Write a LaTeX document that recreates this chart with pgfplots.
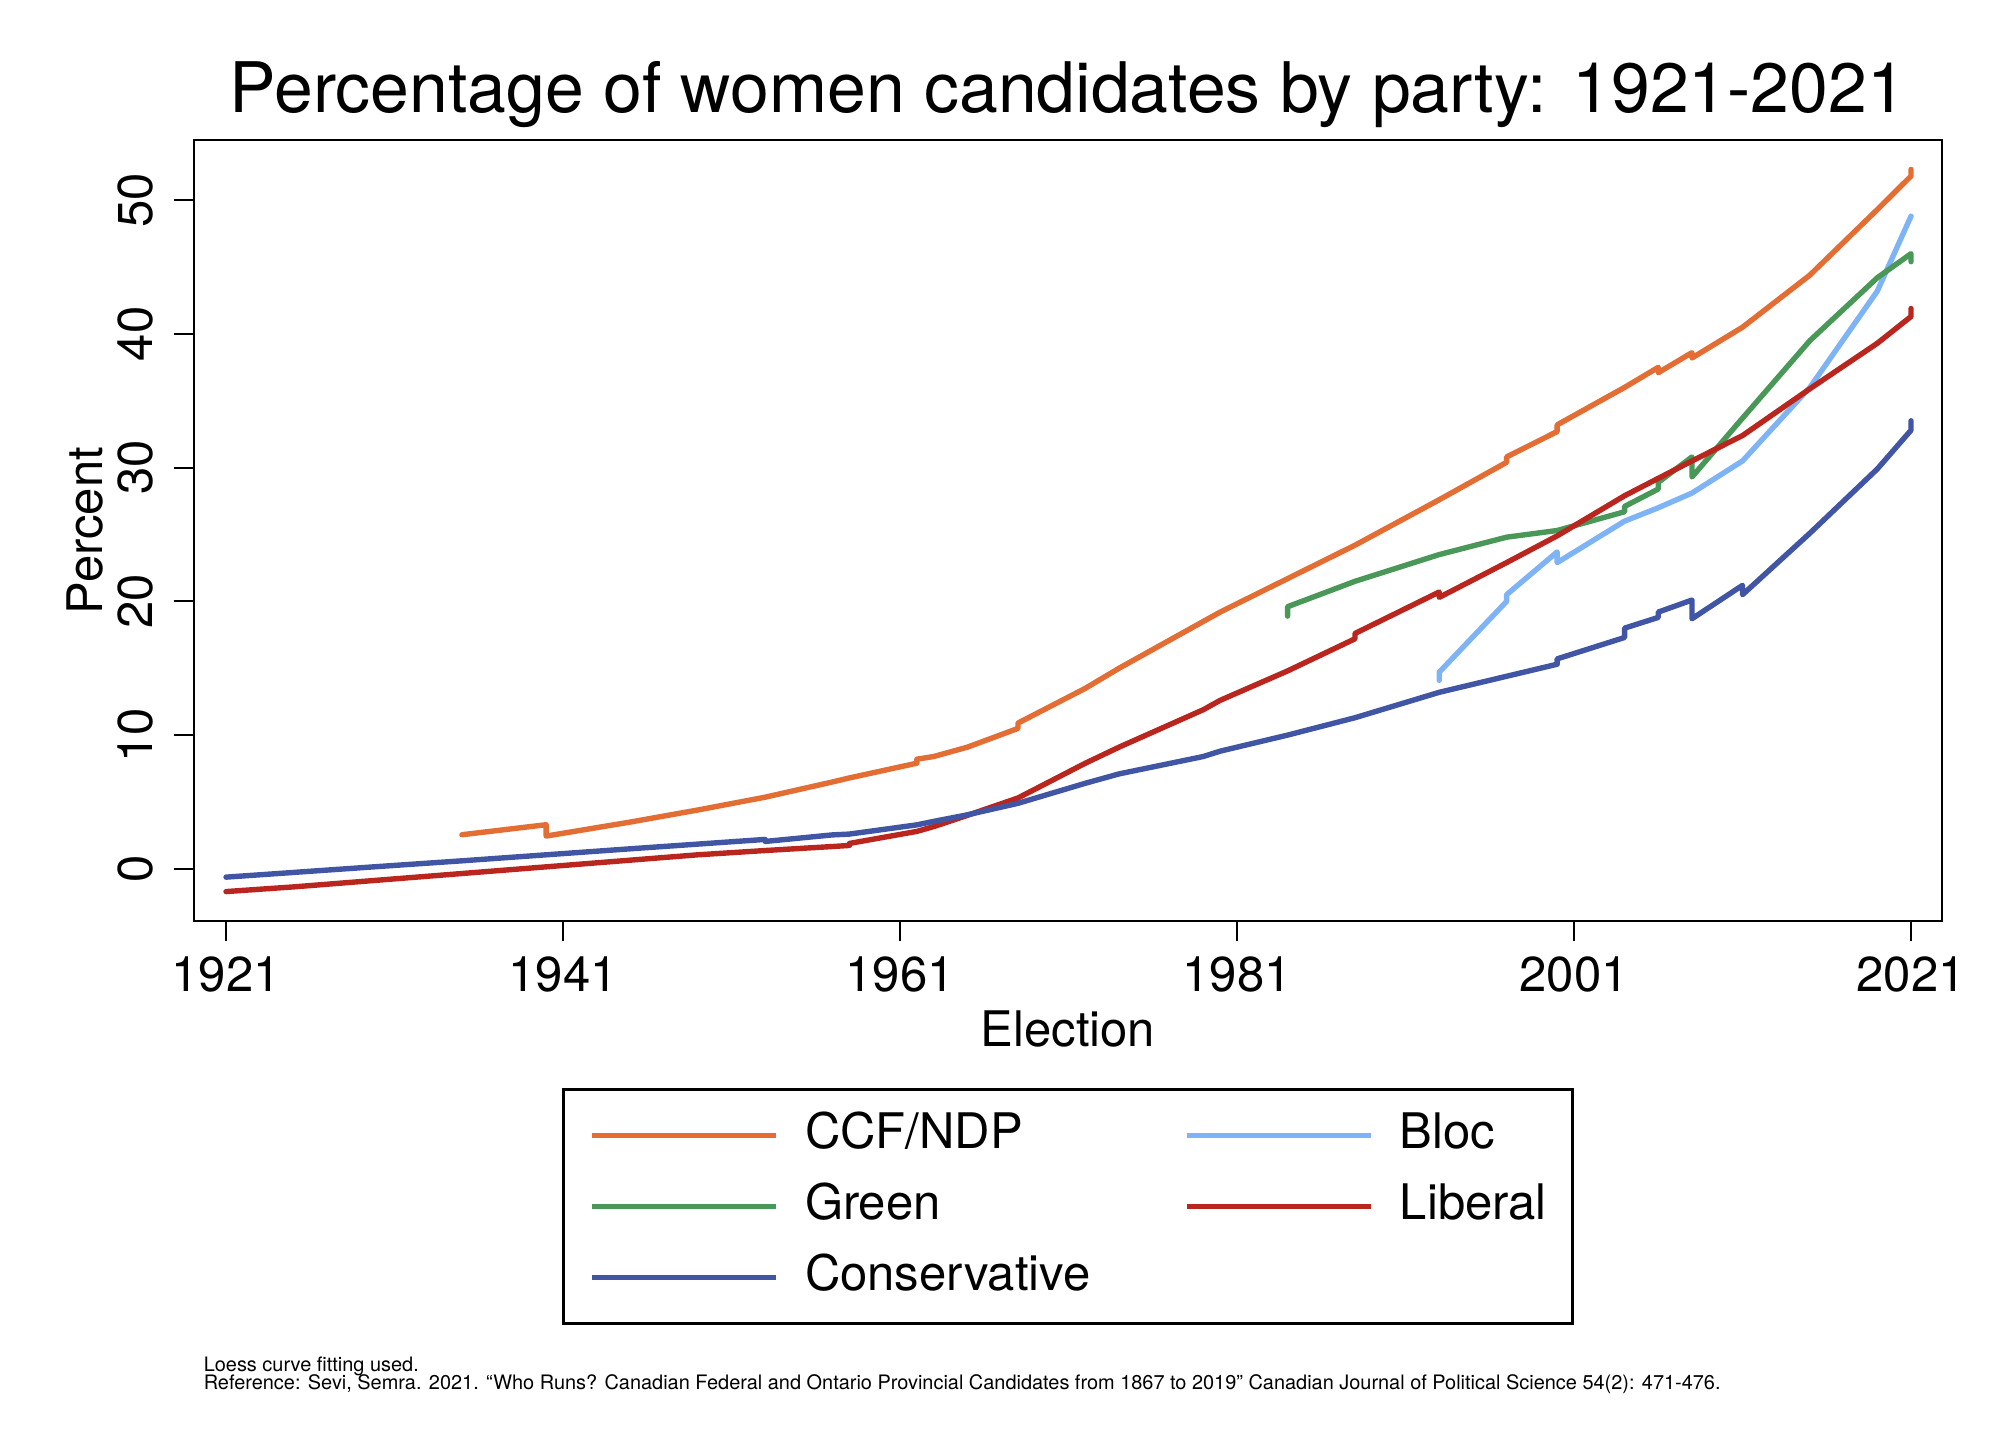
\documentclass[border=0pt]{standalone}
\usepackage{fontspec}
\setmainfont{TeX Gyre Heros}
\usepackage{pgfplots}
\pgfplotsset{compat=1.18}
\definecolor{cndp}{RGB}{227,109,50}
\definecolor{cgreen}{RGB}{74,152,88}
\definecolor{ccons}{RGB}{64,86,164}
\definecolor{cbloc}{RGB}{126,180,246}
\definecolor{clib}{RGB}{186,38,30}
\begin{document}
\begin{tikzpicture}
\path[use as bounding box] (-48.5bp,-132.75bp) rectangle (450.5bp,230.25bp);
\begin{axis}[
  at={(0,0)}, anchor=south west,
  scale only axis, width=437bp, height=195.25bp,
  xmin=1919.1, xmax=2022.84, ymin=-3.9, ymax=54.5,
  xtick={1921,1941,1961,1981,2001,2021}, ytick={0,10,20,30,40,50},
  /pgf/number format/set thousands separator={},
  /pgf/number format/assume math mode=true,
  tick align=outside, xtick pos=bottom, ytick pos=left,
  major tick length=5bp,
  every tick/.style={black, line width=0.45bp},
  axis line style={line width=0.7bp},
  ticklabel style={font=\fontsize{12.3}{14}\selectfont},
  yticklabel style={rotate=90, anchor=south, inner sep=5bp},
  xticklabel style={anchor=north, inner sep=3.75bp},
  title={Percentage of women candidates by party: 1921-2021},
  title style={at={(axis description cs:0.5,1.0049)}, anchor=base, font=\fontsize{17.5}{20}\selectfont},
  xlabel={Election},
  xlabel style={at={(axis description cs:0.5,-0.161)}, anchor=base, font=\fontsize{12.3}{14}\selectfont},
  ylabel={Percent},
  ylabel style={at={(axis description cs:-0.0526,0.5)}, rotate=0, anchor=base, font=\fontsize{12.3}{14}\selectfont},
  legend columns=2,
  legend cell align=left,
  legend image code/.code={\draw[#1,line cap=butt] (0bp,0bp) -- (46bp,0bp);},
  legend style={at={(axis description cs:0.5,-0.2138)}, anchor=north, draw=black, line width=0.8bp,
    inner xsep=6.5bp, inner ysep=5.7bp, row sep=6.3bp, font=\fontsize{12.3}{14}\selectfont,
    nodes={inner sep=0pt, text height=9bp, text depth=2.5bp},
    /tikz/every odd column/.append style={column sep=6.6bp},
    /tikz/every even column/.append style={column sep=23.4bp}},
  every axis plot/.append style={line width=1.35bp, line cap=round, line join=round},
]
\addplot[cndp] coordinates {
(1935,2.55) (1940,3.3) (1940,2.45) (1945,3.5) (1949,4.4) (1953,5.36) (1957,6.5) (1958,6.8)
(1962,7.9) (1962,8.2) (1963,8.4) (1965,9.1) (1968,10.5) (1968,10.9) (1972,13.5) (1974,15.0)
(1979,18.5) (1980,19.2) (1984,21.7) (1988,24.2) (1993,27.6) (1997,30.4) (1997,30.8)
(2000,32.7) (2000,33.2) (2004,36.0) (2006,37.5) (2006,37.1) (2008,38.6) (2008,38.2)
(2011,40.5) (2015,44.4) (2019,49.3) (2021,51.8) (2021,52.3)};
\addlegendentry{CCF/NDP}
\addplot[cbloc] coordinates {
(1993,14.1) (1993,14.7) (1997,20.0) (1997,20.5) (2000,23.7) (2000,22.9) (2004,26.0)
(2006,27.0) (2008,28.1) (2011,30.5) (2015,36.0) (2019,43.2) (2021,48.8)};
\addlegendentry{Bloc}
\addplot[cgreen] coordinates {
(1984,18.9) (1984,19.6) (1988,21.5) (1993,23.5) (1997,24.8) (2000,25.3) (2004,26.7) (2004,27.1)
(2006,28.4) (2006,28.9) (2008,30.8) (2008,29.3) (2011,33.7) (2015,39.5) (2019,44.2)
(2021,46.0) (2021,45.4)};
\addlegendentry{Green}
\addplot[clib] coordinates {
(1921,-1.7) (1925,-1.35) (1926,-1.25) (1930,-0.85) (1935,-0.35) (1940,0.15) (1945,0.65)
(1949,1.05) (1953,1.37) (1957,1.67) (1958,1.75) (1958,1.9) (1962,2.8) (1963,3.16) (1965,4.0)
(1968,5.3) (1972,7.9) (1974,9.1) (1979,11.9) (1980,12.6) (1984,14.8) (1988,17.2) (1988,17.6)
(1993,20.7) (1993,20.3) (1997,22.9) (2000,24.9) (2004,27.9) (2006,29.2) (2008,30.5)
(2011,32.4) (2015,35.9) (2019,39.3) (2021,41.3) (2021,41.9)};
\addlegendentry{Liberal}
\addplot[ccons] coordinates {
(1921,-0.62) (1925,-0.27) (1926,-0.18) (1930,0.17) (1935,0.6) (1940,1.05) (1945,1.5)
(1949,1.85) (1953,2.2) (1953,2.05) (1957,2.54) (1958,2.6) (1962,3.29) (1963,3.55) (1965,4.04)
(1968,4.9) (1972,6.4) (1974,7.1) (1979,8.4) (1980,8.8) (1984,10.0) (1988,11.3) (1993,13.2)
(1997,14.4) (2000,15.3) (2000,15.7) (2004,17.3) (2004,18.0) (2006,18.8) (2006,19.2)
(2008,20.1) (2008,18.7) (2011,21.2) (2011,20.5) (2015,25.1) (2019,29.9) (2021,32.8) (2021,33.5)};
\addlegendentry{Conservative}
\end{axis}
\node[anchor=base west, inner sep=0pt, font=\fontsize{5}{5.5}\selectfont] at (2.25bp,-112.5bp) {Loess curve fitting used.};
\node[anchor=base west, inner sep=0pt, font=\fontsize{5}{5.5}\selectfont] at (2.25bp,-117bp) {Reference: Sevi, Semra. 2021. “Who Runs? Canadian Federal and Ontario Provincial Candidates from 1867 to 2019” Canadian Journal of Political Science 54(2): 471-476.};
\end{tikzpicture}
\end{document}
